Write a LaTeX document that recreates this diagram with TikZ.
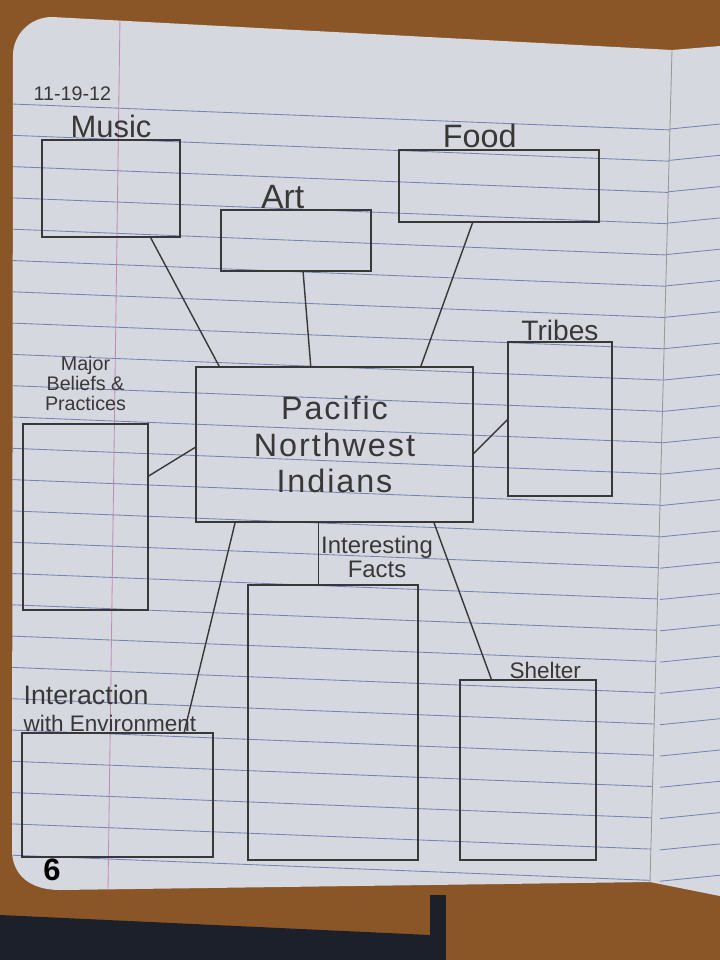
\documentclass[tikz,border=0pt]{standalone}
\usepackage{fontspec}
\setmainfont{Liberation Sans}
\usetikzlibrary{positioning}
\definecolor{wood}{HTML}{8A5628}
\definecolor{desk}{HTML}{1C202B}
\definecolor{paper}{HTML}{D6D8DF}
\definecolor{rule}{HTML}{7584B2}
\definecolor{margin}{HTML}{C48BB4}
\definecolor{pencil}{HTML}{383838}
\begin{document}
\begin{tikzpicture}[
    x=0.025cm, y=-0.025cm,
    box/.style={draw=pencil, line width=1.1pt, inner sep=0pt, outer sep=0pt},
    link/.style={draw=pencil, line width=1pt},
    lbl/.style={text=pencil, inner sep=1pt, font=\fontsize{#1}{#1}\selectfont},
    lbl/.default=20,
    small/.style={text=pencil, inner sep=1pt, align=center,
      font=\fontsize{#1}{#1}\selectfont},
    small/.default=14,
  ]
  % desk and notebook
  \fill[wood] (0,0) rectangle (720,960);
  \fill[desk] (0,915) -- (430,935) -- (430,960) -- (0,960) -- cycle;
  \fill[desk] (430,895) rectangle (446,960);
  \fill[paper] (672,50) -- (720,46) -- (720,896) -- (650,882) -- cycle;
  \fill[paper] (52,17) -- (672,50) -- (650,882) -- (60,890)
    .. controls (30,890) and (12,875) .. (12,850) -- (13,55)
    .. controls (13,35) and (30,17) .. (52,17) -- cycle;
  \begin{scope}
    \clip (52,17) -- (672,50) -- (650,882) -- (60,890)
      .. controls (30,890) and (12,875) .. (12,850) -- (13,55)
      .. controls (13,35) and (30,17) .. (52,17) -- cycle;
    \foreach \k in {0,...,24}
      \draw[rule, line width=0.6pt] (12,{104+31.3*\k}) -- (672,{130+31.3*\k});
    \draw[margin, line width=0.6pt] (120,17) -- (108,890);
  \end{scope}
  \begin{scope}
    \clip (672,50) -- (720,46) -- (720,896) -- (650,882) -- cycle;
    \foreach \k in {0,...,24}
      \draw[rule, line width=0.6pt] (660,{130+31.3*\k}) -- (720,{124+31.3*\k});
  \end{scope}
  \draw[gray!80, line width=0.6pt] (672,50) -- (650,882);

  % boxes
  \node[box, minimum width=3.45cm, minimum height=2.425cm] (music) at (111,188.5) {};
  \node[box, minimum width=3.75cm, minimum height=1.525cm] (art) at (296,240.5) {};
  \node[box, minimum width=5cm, minimum height=1.8cm] (food) at (499,186) {};
  \node[box, minimum width=6.925cm, minimum height=3.875cm, align=center,
    text=pencil, font=\fontsize{23}{26}\selectfont\addfontfeatures{LetterSpace=6}]
    (pac) at (334.5,444.5) {Pacific\\Northwest\\Indians};
  \node[box, minimum width=2.6cm, minimum height=3.85cm] (tribes) at (560,419) {};
  \node[box, minimum width=3.125cm, minimum height=4.65cm] (beliefs) at (85.5,517) {};
  \node[box, minimum width=4.775cm, minimum height=3.1cm] (nature) at (117.5,795) {};
  \node[box, minimum width=4.25cm, minimum height=6.875cm] (facts) at (333,722.5) {};
  \node[box, minimum width=3.4cm, minimum height=4.5cm] (shelter) at (528,770) {};

  % labels
  \node[lbl=22, above=0pt of music] (musiclbl) {Music};
  \node[lbl=24, above=0pt of art, xshift=-0.33cm] (artlbl) {Art};
  \node[lbl=23, above=0pt of food, xshift=-0.48cm] (foodlbl) {Food};
  \node[lbl, above=0pt of tribes] (tribeslbl) {Tribes};
  \node[lbl=16, above=0pt of shelter, xshift=0.43cm] (shelterlbl) {Shelter};
  \node[small, above=0.3cm of beliefs] (beliefslbl) {Major\\Beliefs \&\\Practices};
  \node[small=17, above=0.15cm of facts, xshift=1.1cm] (factslbl) {Interesting\\Facts};
  \node[lbl=19, anchor=south west, align=left] (naturelbl) at (nature.north west)
    {Interaction\\{\fontsize{16}{16}\selectfont with Environment}};
  \node[lbl=14, anchor=base west] (date) at (32,100) {11-19-12};
  \node[font=\fontsize{22}{22}\selectfont\bfseries, anchor=base] (pagenum) at (52,880) {6};

  % connectors
  \draw[link] (music.-51) -- (pac.146);
  \draw[link] (art.-77) -- (pac.107);
  \draw[link] (food.-126) -- (pac.42);
  \draw[link] (tribes.180) -- (pac.-4);
  \draw[link] (beliefs.33) -- (pac.181);
  \draw[link] (nature.43) -- (pac.-142);
  \draw[link] (facts.96) -- (facts.96 |- pac.south);
  \draw[link] (shelter.112) -- (pac.-38);
\end{tikzpicture}
\end{document}
